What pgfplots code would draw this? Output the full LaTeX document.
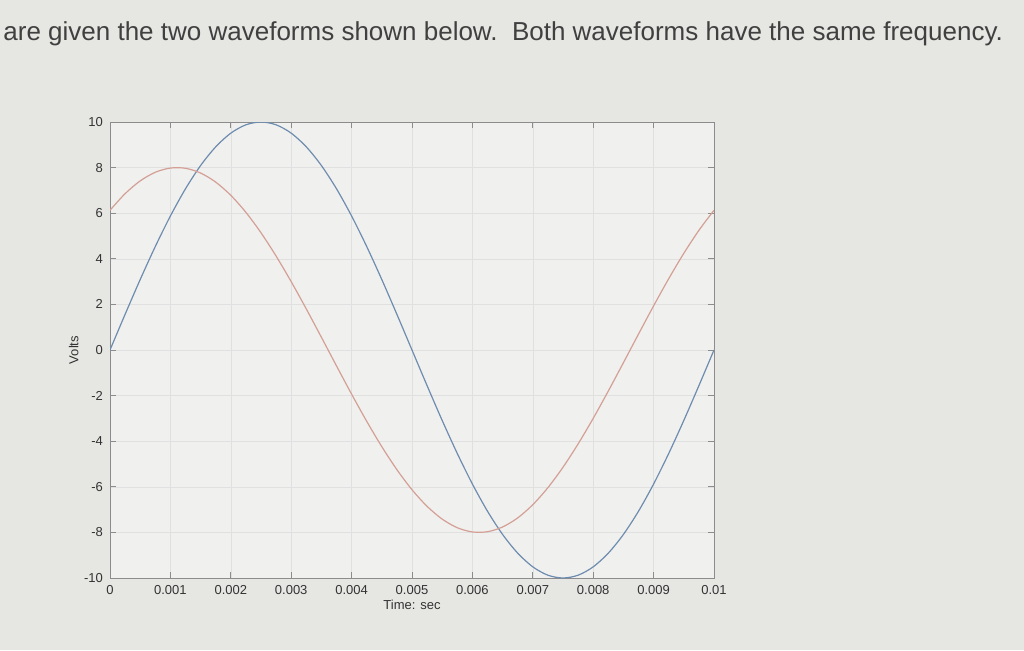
\documentclass[border=0pt]{standalone}
\usepackage{fontspec}
\setmainfont{Liberation Sans}
\usepackage{pgfplots}
\pgfplotsset{compat=1.18}
\definecolor{bgpaper}{RGB}{230,230,227}
\definecolor{wblue}{RGB}{110,140,175}
\definecolor{wred}{RGB}{212,160,150}
\definecolor{axgray}{RGB}{140,140,140}
\begin{document}
\begin{tikzpicture}
\path[use as bounding box, fill=bgpaper] (0,0) rectangle (512pt,325pt);
\node[anchor=base west, inner sep=0pt, text=black!75, font=\fontsize{13}{15}\selectfont]
  at (1.5pt,305pt) {are given the two waveforms shown below.\ \ Both waveforms have the same frequency.};
\begin{axis}[
  at={(55pt,36pt)}, anchor=south west,
  scale only axis, width=302pt, height=228pt,
  xmin=0, xmax=0.01, ymin=-10, ymax=10,
  xtick={0,0.001,...,0.01}, ytick={-10,-8,...,10},
  scaled x ticks=false,
  xticklabel style={/pgf/number format/fixed, /pgf/number format/precision=3},
  /pgf/number format/assume math mode=true,
  tick label style={font=\fontsize{6.5}{7}\selectfont, text=black!80},
  tick align=inside, tick style={axgray, thin},
  major tick length=3pt,
  axis line style={axgray, thin},
  grid=major, grid style={black!12, very thin},
  axis background/.style={fill=bgpaper!60!white},
  xlabel={Time: sec}, ylabel={Volts},
  label style={font=\fontsize{6.5}{7}\selectfont, text=black!80},
  xlabel style={yshift=4pt}, ylabel style={yshift=-4pt},
]
\addplot[wblue, semithick, smooth] coordinates {
(0,0) (0.00025,1.564) (0.0005,3.090) (0.00075,4.540) (0.001,5.878) (0.00125,7.071)
(0.0015,8.090) (0.00175,8.910) (0.002,9.511) (0.00225,9.877) (0.0025,10)
(0.00275,9.877) (0.003,9.511) (0.00325,8.910) (0.0035,8.090) (0.00375,7.071)
(0.004,5.878) (0.00425,4.540) (0.0045,3.090) (0.00475,1.564) (0.005,0)
(0.00525,-1.564) (0.0055,-3.090) (0.00575,-4.540) (0.006,-5.878) (0.00625,-7.071)
(0.0065,-8.090) (0.00675,-8.910) (0.007,-9.511) (0.00725,-9.877) (0.0075,-10)
(0.00775,-9.877) (0.008,-9.511) (0.00825,-8.910) (0.0085,-8.090) (0.00875,-7.071)
(0.009,-5.878) (0.00925,-4.540) (0.0095,-3.090) (0.00975,-1.564) (0.01,0)
};
\addplot[wred, semithick, smooth] coordinates {
(0,6.128) (0.00025,6.857) (0.0005,7.417) (0.00075,7.795) (0.001,7.980) (0.00125,7.970)
(0.0015,7.762) (0.00175,7.364) (0.002,6.784) (0.00225,6.038) (0.0025,5.142)
(0.00275,4.120) (0.003,2.997) (0.00325,1.800) (0.0035,0.558) (0.00375,-0.697)
(0.004,-1.935) (0.00425,-3.126) (0.0045,-4.239) (0.00475,-5.248) (0.005,-6.128)
(0.00525,-6.857) (0.0055,-7.417) (0.00575,-7.795) (0.006,-7.980) (0.00625,-7.970)
(0.0065,-7.762) (0.00675,-7.364) (0.007,-6.784) (0.00725,-6.038) (0.0075,-5.142)
(0.00775,-4.120) (0.008,-2.997) (0.00825,-1.800) (0.0085,-0.558) (0.00875,0.697)
(0.009,1.935) (0.00925,3.126) (0.0095,4.239) (0.00975,5.248) (0.01,6.128)
};
\end{axis}
\end{tikzpicture}
\end{document}
